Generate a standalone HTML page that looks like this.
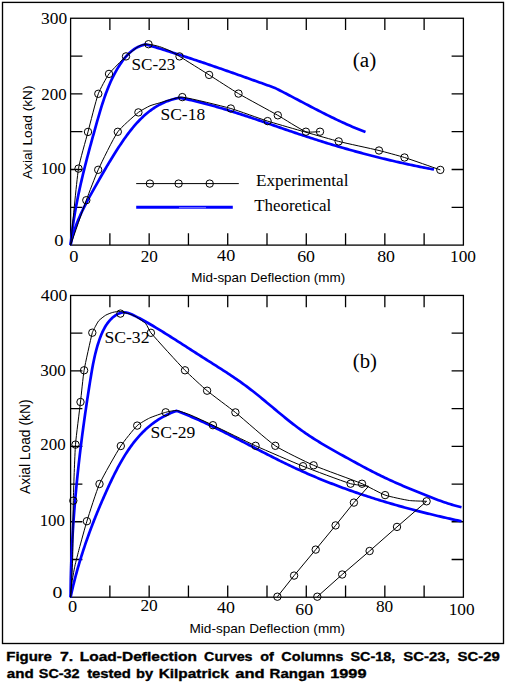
<!DOCTYPE html><html><head><meta charset="utf-8"><style>html,body{margin:0;padding:0;background:#fff;width:506px;height:684px;overflow:hidden}svg{display:block}</style></head><body>
<svg width="506" height="684" viewBox="0 0 506 684">
<rect x="0" y="0" width="506" height="684" fill="#fff"/>
<rect x="2.5" y="2.4" width="501" height="641.1" fill="none" stroke="#000" stroke-width="1.35"/>
<rect x="70.60" y="18.25" width="392.80" height="226.85" fill="none" stroke="#000" stroke-width="1.3"/>
<path d="M109.88,18.25V30.05M109.88,245.10V233.30M149.16,18.25V30.05M149.16,245.10V233.30M188.44,18.25V30.05M188.44,245.10V233.30M227.72,18.25V30.05M227.72,245.10V233.30M267.00,18.25V30.05M267.00,245.10V233.30M306.28,18.25V30.05M306.28,245.10V233.30M345.56,18.25V30.05M345.56,245.10V233.30M384.84,18.25V30.05M384.84,245.10V233.30M424.12,18.25V30.05M424.12,245.10V233.30M70.60,207.29H82.40M463.40,207.29H451.60M70.60,169.48H82.40M463.40,169.48H451.60M70.60,131.68H82.40M463.40,131.68H451.60M70.60,93.87H82.40M463.40,93.87H451.60M70.60,56.06H82.40M463.40,56.06H451.60" fill="none" stroke="#000" stroke-width="1.3"/>
<rect x="70.60" y="295.45" width="392.80" height="301.75" fill="none" stroke="#000" stroke-width="1.3"/>
<path d="M109.88,295.45V307.25M109.88,597.20V585.40M149.16,295.45V307.25M149.16,597.20V585.40M188.44,295.45V307.25M188.44,597.20V585.40M227.72,295.45V307.25M227.72,597.20V585.40M267.00,295.45V307.25M267.00,597.20V585.40M306.28,295.45V307.25M306.28,597.20V585.40M345.56,295.45V307.25M345.56,597.20V585.40M384.84,295.45V307.25M384.84,597.20V585.40M424.12,295.45V307.25M424.12,597.20V585.40M70.60,559.48H82.40M463.40,559.48H451.60M70.60,521.76H82.40M463.40,521.76H451.60M70.60,484.04H82.40M463.40,484.04H451.60M70.60,446.33H82.40M463.40,446.33H451.60M70.60,408.61H82.40M463.40,408.61H451.60M70.60,370.89H82.40M463.40,370.89H451.60M70.60,333.17H82.40M463.40,333.17H451.60" fill="none" stroke="#000" stroke-width="1.3"/>
<path d="M70.60,245.10 L70.80,243.05 L71.01,241.00 L71.23,238.96 L71.46,236.92 L71.70,234.89 L71.95,232.86 L72.21,230.84 L72.48,228.82 L72.75,226.80 L73.04,224.79 L73.34,222.79 L73.64,220.78 L73.95,218.78 L74.27,216.79 L74.60,214.80 L74.94,212.81 L75.29,210.82 L75.64,208.84 L76.00,206.86 L76.37,204.88 L76.75,202.91 L77.13,200.94 L77.52,198.97 L77.92,197.00 L78.32,195.04 L78.73,193.08 L79.15,191.12 L79.57,189.16 L80.00,187.20 L80.44,185.25 L80.88,183.29 L81.33,181.34 L81.78,179.39 L82.24,177.44 L82.71,175.49 L83.18,173.54 L83.65,171.59 L84.14,169.64 L84.62,167.70 L85.11,165.75 L85.60,163.80 L86.10,161.85 L86.61,159.91 L87.11,157.96 L87.62,156.01 L88.14,154.06 L88.66,152.11 L89.18,150.16 L89.71,148.21 L90.23,146.26 L90.77,144.31 L91.30,142.35 L91.84,140.40 L92.38,138.44 L92.92,136.48 L93.47,134.52 L94.02,132.56 L94.57,130.59 L95.12,128.62 L95.67,126.65 L96.23,124.68 L96.78,122.71 L97.34,120.73 L97.90,118.75 L98.47,116.78 L99.05,114.80 L99.62,112.82 L100.21,110.85 L100.81,108.88 L101.41,106.92 L102.02,104.95 L102.65,103.00 L103.29,101.05 L103.94,99.10 L104.60,97.17 L105.28,95.24 L105.97,93.33 L106.69,91.42 L107.41,89.52 L108.16,87.64 L108.93,85.76 L109.72,83.91 L110.52,82.06 L111.36,80.23 L112.21,78.42 L113.09,76.62 L113.99,74.84 L114.92,73.08 L115.88,71.33 L116.86,69.61 L117.87,67.90 L118.92,66.22 L119.99,64.56 L121.10,62.92 L122.24,61.31 L123.41,59.73 L124.63,58.18 L125.88,56.68 L127.19,55.23 L128.55,53.84 L129.96,52.50 L131.43,51.24 L132.96,50.05 L134.56,48.95 L136.22,47.93 L137.96,47.01 L139.77,46.19 L141.66,45.48 L143.64,44.88 L145.70,44.40 L145.70,44.40 L147.65,44.97 L149.60,45.55 L151.55,46.13 L153.50,46.72 L155.45,47.30 L157.40,47.89 L159.35,48.49 L161.29,49.08 L163.24,49.68 L165.18,50.29 L167.12,50.89 L169.06,51.50 L171.00,52.11 L172.94,52.73 L174.88,53.35 L176.82,53.97 L178.75,54.59 L180.69,55.21 L182.63,55.84 L184.56,56.47 L186.49,57.11 L188.43,57.74 L190.36,58.38 L192.29,59.02 L194.22,59.66 L196.15,60.30 L198.08,60.95 L200.01,61.60 L201.93,62.25 L203.86,62.90 L205.79,63.56 L207.71,64.21 L209.64,64.87 L211.56,65.53 L213.49,66.19 L215.41,66.85 L217.33,67.52 L219.26,68.18 L221.18,68.85 L223.10,69.52 L225.02,70.19 L226.94,70.86 L228.86,71.53 L230.78,72.21 L232.70,72.88 L234.62,73.56 L236.54,74.23 L238.46,74.91 L240.38,75.59 L242.30,76.27 L244.22,76.95 L246.14,77.63 L248.05,78.31 L249.97,79.00 L251.89,79.68 L253.81,80.36 L255.73,81.05 L257.64,81.73 L259.56,82.42 L261.48,83.10 L263.40,83.79 L265.31,84.47 L267.23,85.16 L269.15,85.84 L271.06,86.53 L272.98,87.21 L274.90,87.90 L274.90,87.90 L276.74,88.83 L278.57,89.77 L280.40,90.71 L282.23,91.65 L284.06,92.60 L285.89,93.55 L287.71,94.50 L289.54,95.46 L291.36,96.41 L293.18,97.37 L295.00,98.33 L296.83,99.29 L298.65,100.25 L300.47,101.20 L302.29,102.16 L304.11,103.12 L305.93,104.08 L307.76,105.04 L309.58,105.99 L311.41,106.94 L313.23,107.89 L315.06,108.84 L316.89,109.78 L318.72,110.72 L320.55,111.66 L322.38,112.59 L324.22,113.52 L326.06,114.44 L327.90,115.36 L329.74,116.28 L331.59,117.18 L333.44,118.08 L335.29,118.98 L337.15,119.86 L339.01,120.74 L340.87,121.61 L342.74,122.48 L344.61,123.33 L346.48,124.18 L348.36,125.02 L350.25,125.85 L352.13,126.67 L354.03,127.48 L355.93,128.27 L357.83,129.06 L359.74,129.84 L361.65,130.60 L363.57,131.36 L365.50,132.10" fill="none" stroke="#0000ff" stroke-width="2.7" stroke-linejoin="round"/>
<path d="M70.60,245.10 L71.00,243.06 L71.43,241.05 L71.91,239.05 L72.41,237.06 L72.95,235.10 L73.51,233.14 L74.11,231.21 L74.74,229.29 L75.40,227.38 L76.08,225.48 L76.79,223.60 L77.52,221.73 L78.28,219.87 L79.06,218.02 L79.86,216.18 L80.68,214.35 L81.52,212.53 L82.38,210.71 L83.26,208.91 L84.15,207.11 L85.05,205.31 L85.97,203.53 L86.90,201.75 L87.85,199.97 L88.80,198.19 L89.76,196.42 L90.74,194.66 L91.71,192.89 L92.70,191.13 L93.68,189.36 L94.68,187.60 L95.67,185.84 L96.67,184.07 L97.66,182.31 L98.66,180.54 L99.67,178.77 L100.67,177.01 L101.68,175.24 L102.70,173.48 L103.72,171.72 L104.74,169.96 L105.77,168.20 L106.80,166.44 L107.84,164.69 L108.88,162.93 L109.94,161.18 L110.99,159.44 L112.06,157.69 L113.13,155.96 L114.21,154.22 L115.30,152.49 L116.40,150.76 L117.51,149.04 L118.62,147.33 L119.75,145.62 L120.88,143.91 L122.03,142.21 L123.19,140.52 L124.36,138.84 L125.54,137.18 L126.74,135.52 L127.95,133.88 L129.18,132.26 L130.43,130.65 L131.69,129.06 L132.97,127.50 L134.27,125.95 L135.59,124.43 L136.93,122.93 L138.29,121.46 L139.68,120.01 L141.09,118.60 L142.52,117.21 L143.98,115.86 L145.46,114.54 L146.97,113.26 L148.50,112.01 L150.07,110.80 L151.66,109.63 L153.28,108.50 L154.94,107.41 L156.62,106.37 L158.34,105.37 L160.09,104.42 L161.88,103.52 L163.70,102.67 L165.55,101.86 L167.44,101.11 L169.37,100.42 L171.34,99.78 L173.34,99.19 L175.39,98.67 L177.47,98.20 L179.60,97.80 L179.60,97.80 L181.57,98.19 L183.54,98.59 L185.51,99.00 L187.47,99.42 L189.43,99.86 L191.39,100.30 L193.35,100.75 L195.30,101.21 L197.25,101.69 L199.21,102.17 L201.16,102.66 L203.10,103.16 L205.05,103.66 L206.99,104.18 L208.93,104.70 L210.87,105.23 L212.81,105.77 L214.75,106.32 L216.68,106.87 L218.62,107.43 L220.55,108.00 L222.48,108.57 L224.41,109.15 L226.34,109.73 L228.27,110.32 L230.20,110.92 L232.12,111.52 L234.05,112.13 L235.97,112.74 L237.89,113.36 L239.81,113.98 L241.73,114.60 L243.65,115.23 L245.57,115.86 L247.49,116.50 L249.41,117.14 L251.32,117.78 L253.24,118.42 L255.16,119.07 L257.07,119.72 L258.99,120.37 L260.90,121.03 L262.82,121.68 L264.73,122.34 L266.64,123.00 L268.56,123.66 L270.47,124.32 L272.39,124.98 L274.30,125.64 L276.21,126.30 L278.13,126.96 L280.04,127.62 L281.96,128.28 L283.87,128.94 L285.78,129.60 L287.70,130.26 L289.62,130.91 L291.53,131.57 L293.45,132.22 L295.37,132.87 L297.28,133.52 L299.20,134.16 L301.12,134.80 L303.04,135.44 L304.96,136.08 L306.88,136.71 L308.81,137.34 L310.73,137.97 L312.65,138.59 L314.58,139.21 L316.51,139.82 L318.43,140.43 L320.36,141.04 L322.29,141.64 L324.22,142.24 L326.15,142.84 L328.08,143.43 L330.02,144.02 L331.95,144.60 L333.88,145.18 L335.82,145.76 L337.76,146.33 L339.69,146.90 L341.63,147.47 L343.57,148.03 L345.51,148.59 L347.46,149.15 L349.40,149.70 L351.34,150.24 L353.29,150.79 L355.23,151.33 L357.18,151.86 L359.13,152.39 L361.08,152.92 L363.03,153.44 L364.98,153.96 L366.93,154.48 L368.88,154.99 L370.84,155.49 L372.79,156.00 L374.75,156.50 L376.71,156.99 L378.67,157.48 L380.63,157.97 L382.59,158.45 L384.55,158.93 L386.51,159.40 L388.48,159.87 L390.45,160.34 L392.41,160.80 L394.38,161.26 L396.35,161.71 L398.32,162.16 L400.29,162.61 L402.26,163.05 L404.24,163.48 L406.21,163.91 L408.19,164.34 L410.17,164.76 L412.15,165.18 L414.13,165.60 L416.11,166.01 L418.09,166.41 L420.08,166.81 L422.06,167.21 L424.05,167.60 L426.04,167.99 L428.03,168.38 L430.02,168.75 L432.01,169.13 L434.00,169.50" fill="none" stroke="#0000ff" stroke-width="2.7" stroke-linejoin="round"/>
<path d="M70.60,245.10 C72.05,231.07 76.36,182.50 78.50,168.60 C79.55,161.75 86.22,138.62 88.00,131.90 C89.85,124.91 95.85,100.56 98.30,93.80 C99.70,89.93 106.56,77.20 109.00,73.90 C111.64,70.34 122.71,59.42 126.00,56.40 C128.36,54.23 137.06,47.09 139.80,45.60 C141.18,44.85 146.91,44.12 148.50,44.20 C150.53,44.30 157.53,46.00 159.50,46.60 C161.48,47.21 168.14,49.89 170.00,50.80 C171.81,51.69 177.78,55.34 179.50,56.40 C184.95,59.76 203.69,71.49 209.10,74.90 C214.50,78.31 233.00,90.36 238.50,93.60 C245.59,97.77 270.64,111.25 277.80,115.30 C282.99,118.24 300.50,129.60 305.90,131.70 C308.24,132.61 317.42,131.70 320.00,131.70" fill="none" stroke="#000" stroke-width="1" stroke-linejoin="round"/>
<path d="M70.60,245.10 C73.48,236.87 83.30,208.39 86.30,200.20 C88.36,194.58 95.70,175.23 98.20,169.80 C101.47,162.69 113.37,138.13 117.80,131.80 C120.74,127.61 134.39,115.64 138.40,112.40 C140.29,110.87 147.78,106.79 150.00,105.80 C151.72,105.03 158.09,103.35 159.90,102.80 C161.72,102.25 167.96,100.27 169.80,99.80 C172.07,99.22 180.02,96.77 182.30,97.10 C191.20,98.37 222.02,106.03 230.80,108.50 C237.66,110.43 260.78,119.02 267.60,121.10 C280.56,125.05 325.60,137.94 338.70,141.40 C346.02,143.33 371.64,148.70 379.00,150.50 C383.71,151.65 399.88,156.04 404.50,157.50 C411.12,159.59 433.74,167.63 440.30,169.90" fill="none" stroke="#000" stroke-width="1" stroke-linejoin="round"/>
<circle cx="78.50" cy="168.60" r="3.70" fill="none" stroke="#000" stroke-width="1"/>
<circle cx="88.00" cy="131.90" r="3.70" fill="none" stroke="#000" stroke-width="1"/>
<circle cx="98.30" cy="93.80" r="3.70" fill="none" stroke="#000" stroke-width="1"/>
<circle cx="109.00" cy="73.90" r="3.70" fill="none" stroke="#000" stroke-width="1"/>
<circle cx="126.00" cy="56.40" r="3.70" fill="none" stroke="#000" stroke-width="1"/>
<circle cx="148.50" cy="44.20" r="3.70" fill="none" stroke="#000" stroke-width="1"/>
<circle cx="179.50" cy="56.40" r="3.70" fill="none" stroke="#000" stroke-width="1"/>
<circle cx="209.10" cy="74.90" r="3.70" fill="none" stroke="#000" stroke-width="1"/>
<circle cx="238.50" cy="93.60" r="3.70" fill="none" stroke="#000" stroke-width="1"/>
<circle cx="277.80" cy="115.30" r="3.70" fill="none" stroke="#000" stroke-width="1"/>
<circle cx="305.90" cy="131.70" r="3.70" fill="none" stroke="#000" stroke-width="1"/>
<circle cx="320.00" cy="131.70" r="3.70" fill="none" stroke="#000" stroke-width="1"/>
<circle cx="86.30" cy="200.20" r="3.70" fill="none" stroke="#000" stroke-width="1"/>
<circle cx="98.20" cy="169.80" r="3.70" fill="none" stroke="#000" stroke-width="1"/>
<circle cx="117.80" cy="131.80" r="3.70" fill="none" stroke="#000" stroke-width="1"/>
<circle cx="138.40" cy="112.40" r="3.70" fill="none" stroke="#000" stroke-width="1"/>
<circle cx="182.30" cy="97.10" r="3.70" fill="none" stroke="#000" stroke-width="1"/>
<circle cx="230.80" cy="108.50" r="3.70" fill="none" stroke="#000" stroke-width="1"/>
<circle cx="267.60" cy="121.10" r="3.70" fill="none" stroke="#000" stroke-width="1"/>
<circle cx="338.70" cy="141.40" r="3.70" fill="none" stroke="#000" stroke-width="1"/>
<circle cx="379.00" cy="150.50" r="3.70" fill="none" stroke="#000" stroke-width="1"/>
<circle cx="404.50" cy="157.50" r="3.70" fill="none" stroke="#000" stroke-width="1"/>
<circle cx="440.30" cy="169.90" r="3.70" fill="none" stroke="#000" stroke-width="1"/>
<path d="M136.2,183.6H238.8" stroke="#000" stroke-width="1"/>
<circle cx="149.90" cy="183.60" r="3.70" fill="none" stroke="#000" stroke-width="1"/>
<circle cx="178.60" cy="183.60" r="3.70" fill="none" stroke="#000" stroke-width="1"/>
<circle cx="209.70" cy="183.60" r="3.70" fill="none" stroke="#000" stroke-width="1"/>
<path d="M136.2,207.3H232.8" stroke="#0000ff" stroke-width="2.9"/>
<path d="M179,207.7H206" stroke="#9a9aff" stroke-width="0.8"/>
<path d="M70.60,597.20 L70.61,595.19 L70.62,593.19 L70.64,591.18 L70.66,589.18 L70.69,587.17 L70.72,585.16 L70.75,583.16 L70.78,581.15 L70.82,579.14 L70.87,577.14 L70.92,575.13 L70.97,573.12 L71.02,571.11 L71.08,569.11 L71.14,567.10 L71.21,565.09 L71.28,563.09 L71.35,561.08 L71.42,559.07 L71.50,557.06 L71.59,555.06 L71.67,553.05 L71.76,551.04 L71.86,549.04 L71.95,547.03 L72.05,545.02 L72.16,543.01 L72.27,541.01 L72.38,539.00 L72.49,536.99 L72.61,534.99 L72.73,532.98 L72.85,530.97 L72.98,528.97 L73.11,526.96 L73.24,524.96 L73.38,522.95 L73.52,520.94 L73.66,518.94 L73.81,516.93 L73.96,514.93 L74.11,512.92 L74.26,510.92 L74.42,508.91 L74.58,506.91 L74.75,504.90 L74.92,502.90 L75.09,500.90 L75.26,498.89 L75.44,496.89 L75.62,494.89 L75.80,492.88 L75.98,490.88 L76.17,488.88 L76.36,486.88 L76.56,484.87 L76.75,482.87 L76.95,480.87 L77.15,478.87 L77.36,476.87 L77.57,474.87 L77.78,472.87 L77.99,470.87 L78.21,468.87 L78.43,466.87 L78.65,464.87 L78.87,462.87 L79.10,460.88 L79.33,458.88 L79.56,456.88 L79.79,454.88 L80.03,452.89 L80.27,450.89 L80.51,448.90 L80.76,446.90 L81.00,444.91 L81.25,442.91 L81.50,440.92 L81.76,438.93 L82.01,436.93 L82.27,434.94 L82.53,432.95 L82.80,430.96 L83.06,428.97 L83.33,426.98 L83.60,424.99 L83.88,423.00 L84.15,421.01 L84.43,419.02 L84.71,417.03 L84.99,415.05 L85.27,413.06 L85.56,411.07 L85.85,409.09 L86.14,407.10 L86.43,405.12 L86.73,403.14 L87.02,401.15 L87.32,399.17 L87.62,397.19 L87.93,395.21 L88.23,393.23 L88.54,391.25 L88.85,389.27 L89.16,387.29 L89.47,385.31 L89.78,383.34 L90.10,381.36 L90.42,379.38 L90.74,377.41 L91.06,375.43 L91.39,373.46 L91.73,371.49 L92.07,369.52 L92.43,367.55 L92.79,365.58 L93.17,363.61 L93.56,361.64 L93.97,359.68 L94.40,357.71 L94.84,355.75 L95.31,353.79 L95.80,351.83 L96.31,349.87 L96.85,347.91 L97.41,345.96 L98.00,344.01 L98.62,342.06 L99.27,340.11 L99.96,338.16 L100.69,336.23 L101.46,334.33 L102.27,332.44 L103.14,330.59 L104.06,328.79 L105.04,327.02 L106.08,325.32 L107.19,323.67 L108.37,322.09 L109.62,320.58 L110.96,319.16 L112.37,317.82 L113.88,316.58 L115.47,315.43 L117.16,314.41 L118.91,313.56 L120.72,312.91 L122.58,312.51 L124.47,312.39 L126.37,312.59 L128.28,313.06 L130.19,313.73 L132.09,314.55 L133.99,315.46 L135.86,316.40 L137.71,317.35 L139.54,318.31 L141.35,319.28 L143.14,320.25 L144.92,321.24 L146.68,322.23 L148.43,323.23 L150.17,324.24 L151.90,325.25 L153.62,326.27 L155.33,327.30 L157.04,328.33 L158.74,329.37 L160.44,330.41 L162.13,331.46 L163.83,332.51 L165.52,333.57 L167.21,334.63 L168.91,335.69 L170.60,336.76 L172.29,337.83 L173.98,338.90 L175.67,339.98 L177.36,341.06 L179.05,342.14 L180.74,343.22 L182.43,344.30 L184.12,345.39 L185.81,346.48 L187.50,347.56 L189.19,348.65 L190.89,349.74 L192.58,350.83 L194.27,351.91 L195.96,353.00 L197.66,354.08 L199.35,355.17 L201.05,356.25 L202.75,357.33 L204.45,358.41 L206.15,359.49 L207.85,360.56 L209.55,361.64 L211.25,362.71 L212.95,363.79 L214.65,364.86 L216.35,365.94 L218.04,367.02 L219.74,368.10 L221.43,369.18 L223.12,370.27 L224.81,371.36 L226.49,372.46 L228.17,373.56 L229.84,374.66 L231.52,375.78 L233.18,376.90 L234.84,378.02 L236.50,379.16 L238.14,380.30 L239.79,381.45 L241.42,382.62 L243.05,383.79 L244.67,384.97 L246.28,386.16 L247.88,387.37 L249.48,388.58 L251.07,389.81 L252.65,391.04 L254.23,392.28 L255.80,393.53 L257.37,394.79 L258.93,396.05 L260.49,397.32 L262.04,398.59 L263.60,399.87 L265.15,401.15 L266.69,402.44 L268.24,403.72 L269.78,405.01 L271.33,406.30 L272.87,407.59 L274.41,408.88 L275.96,410.16 L277.50,411.45 L279.05,412.73 L280.60,414.01 L282.15,415.29 L283.71,416.56 L285.27,417.83 L286.83,419.09 L288.40,420.35 L289.97,421.60 L291.55,422.84 L293.13,424.07 L294.72,425.30 L296.32,426.51 L297.92,427.72 L299.53,428.91 L301.15,430.09 L302.78,431.26 L304.42,432.42 L306.07,433.56 L307.73,434.69 L309.40,435.81 L311.07,436.91 L312.76,438.00 L314.45,439.08 L316.15,440.15 L317.86,441.21 L319.57,442.26 L321.29,443.31 L323.02,444.34 L324.75,445.36 L326.48,446.38 L328.22,447.39 L329.97,448.39 L331.72,449.39 L333.47,450.38 L335.22,451.37 L336.98,452.35 L338.74,453.33 L340.50,454.31 L342.26,455.28 L344.02,456.25 L345.78,457.22 L347.54,458.19 L349.30,459.16 L351.06,460.13 L352.82,461.09 L354.58,462.05 L356.35,463.01 L358.11,463.97 L359.87,464.92 L361.64,465.87 L363.40,466.82 L365.17,467.76 L366.94,468.69 L368.72,469.63 L370.49,470.55 L372.27,471.47 L374.05,472.38 L375.84,473.28 L377.62,474.18 L379.42,475.07 L381.21,475.95 L383.01,476.83 L384.82,477.69 L386.63,478.55 L388.44,479.39 L390.26,480.23 L392.08,481.06 L393.90,481.88 L395.73,482.70 L397.57,483.50 L399.40,484.31 L401.24,485.10 L403.09,485.89 L404.93,486.67 L406.78,487.45 L408.63,488.23 L410.48,489.00 L412.34,489.76 L414.20,490.53 L416.06,491.29 L417.92,492.04 L419.78,492.80 L421.64,493.55 L423.51,494.30 L425.37,495.05 L427.24,495.79 L429.10,496.54 L430.97,497.28 L432.85,498.01 L434.72,498.74 L436.60,499.46 L438.48,500.16 L440.36,500.85 L442.25,501.53 L444.15,502.20 L446.05,502.84 L447.95,503.47 L449.87,504.08 L451.78,504.66 L453.71,505.22 L455.65,505.76 L457.59,506.27 L459.54,506.75 L461.50,507.20" fill="none" stroke="#0000ff" stroke-width="2.7" stroke-linejoin="round"/>
<path d="M70.60,597.20 L71.03,595.21 L71.47,593.22 L71.91,591.24 L72.37,589.26 L72.83,587.28 L73.30,585.31 L73.79,583.34 L74.28,581.38 L74.77,579.42 L75.28,577.46 L75.80,575.51 L76.32,573.56 L76.85,571.61 L77.39,569.67 L77.94,567.73 L78.50,565.79 L79.06,563.86 L79.64,561.93 L80.22,560.00 L80.81,558.08 L81.40,556.16 L82.01,554.24 L82.62,552.32 L83.24,550.41 L83.87,548.49 L84.51,546.59 L85.15,544.68 L85.80,542.77 L86.46,540.87 L87.13,538.97 L87.80,537.08 L88.48,535.18 L89.17,533.29 L89.86,531.39 L90.57,529.50 L91.28,527.62 L91.99,525.73 L92.72,523.84 L93.45,521.96 L94.18,520.08 L94.93,518.20 L95.68,516.32 L96.44,514.44 L97.20,512.57 L97.98,510.69 L98.76,508.82 L99.54,506.94 L100.33,505.07 L101.13,503.20 L101.93,501.33 L102.75,499.46 L103.56,497.59 L104.39,495.72 L105.22,493.85 L106.05,491.98 L106.89,490.12 L107.74,488.25 L108.60,486.38 L109.46,484.52 L110.33,482.66 L111.21,480.80 L112.10,478.95 L112.99,477.10 L113.90,475.26 L114.82,473.42 L115.75,471.59 L116.69,469.77 L117.64,467.96 L118.61,466.16 L119.59,464.37 L120.58,462.59 L121.59,460.82 L122.61,459.07 L123.65,457.33 L124.71,455.61 L125.78,453.90 L126.88,452.20 L127.99,450.53 L129.11,448.87 L130.26,447.23 L131.43,445.61 L132.62,444.02 L133.83,442.44 L135.06,440.89 L136.32,439.35 L137.60,437.85 L138.90,436.36 L140.22,434.91 L141.57,433.47 L142.95,432.07 L144.35,430.69 L145.78,429.34 L147.24,428.02 L148.72,426.74 L150.23,425.48 L151.77,424.25 L153.34,423.06 L154.94,421.90 L156.57,420.78 L158.23,419.69 L159.93,418.63 L161.65,417.61 L163.41,416.63 L165.20,415.69 L167.03,414.79 L168.89,413.93 L170.79,413.11 L172.72,412.33 L174.69,411.59 L176.70,410.90 L176.70,410.89 L178.57,411.61 L180.44,412.34 L182.30,413.08 L184.16,413.83 L186.01,414.59 L187.86,415.35 L189.71,416.13 L191.55,416.92 L193.40,417.71 L195.23,418.51 L197.07,419.32 L198.90,420.14 L200.73,420.97 L202.56,421.80 L204.38,422.65 L206.21,423.49 L208.03,424.35 L209.84,425.21 L211.66,426.08 L213.47,426.95 L215.28,427.83 L217.09,428.71 L218.90,429.60 L220.71,430.49 L222.51,431.39 L224.32,432.29 L226.12,433.20 L227.92,434.11 L229.72,435.02 L231.52,435.94 L233.32,436.85 L235.11,437.78 L236.91,438.70 L238.71,439.62 L240.50,440.55 L242.30,441.48 L244.09,442.41 L245.89,443.34 L247.68,444.27 L249.47,445.20 L251.27,446.14 L253.06,447.07 L254.86,448.00 L256.65,448.93 L258.45,449.86 L260.25,450.79 L262.04,451.72 L263.84,452.64 L265.64,453.57 L267.44,454.49 L269.24,455.41 L271.04,456.32 L272.85,457.24 L274.65,458.15 L276.46,459.05 L278.27,459.95 L280.08,460.85 L281.89,461.75 L283.70,462.63 L285.52,463.52 L287.34,464.40 L289.16,465.27 L290.98,466.14 L292.81,467.00 L294.63,467.86 L296.46,468.70 L298.30,469.55 L300.13,470.38 L301.97,471.21 L303.81,472.03 L305.65,472.85 L307.50,473.66 L309.35,474.46 L311.20,475.26 L313.05,476.05 L314.91,476.84 L316.77,477.62 L318.63,478.39 L320.49,479.16 L322.36,479.92 L324.22,480.67 L326.09,481.42 L327.97,482.16 L329.84,482.90 L331.72,483.63 L333.60,484.36 L335.48,485.08 L337.36,485.79 L339.25,486.50 L341.14,487.20 L343.03,487.90 L344.92,488.59 L346.81,489.27 L348.71,489.95 L350.61,490.63 L352.51,491.30 L354.41,491.96 L356.32,492.62 L358.22,493.27 L360.13,493.92 L362.04,494.56 L363.95,495.20 L365.87,495.83 L367.78,496.46 L369.70,497.08 L371.62,497.70 L373.54,498.31 L375.46,498.92 L377.39,499.52 L379.32,500.12 L381.24,500.71 L383.17,501.30 L385.11,501.88 L387.04,502.46 L388.97,503.03 L390.91,503.60 L392.85,504.16 L394.79,504.72 L396.73,505.28 L398.67,505.83 L400.62,506.37 L402.56,506.92 L404.51,507.45 L406.46,507.99 L408.41,508.51 L410.36,509.04 L412.31,509.56 L414.26,510.07 L416.22,510.59 L418.18,511.09 L420.13,511.60 L422.09,512.10 L424.05,512.59 L426.01,513.08 L427.98,513.57 L429.94,514.05 L431.90,514.53 L433.87,515.01 L435.84,515.48 L437.81,515.95 L439.78,516.42 L441.75,516.88 L443.72,517.33 L445.69,517.79 L447.66,518.24 L449.64,518.69 L451.61,519.13 L453.59,519.57 L455.57,520.01 L457.54,520.44 L459.52,520.87 L461.50,521.30" fill="none" stroke="#0000ff" stroke-width="2.7" stroke-linejoin="round"/>
<path d="M70.60,597.20 C70.97,590.38 72.41,566.83 72.60,560.00 C72.90,549.13 73.03,511.57 73.30,500.70 C73.56,490.41 74.75,454.86 75.50,444.60 C76.07,436.76 79.60,409.81 80.50,402.00 C81.17,396.19 83.12,376.06 84.10,370.30 C85.28,363.35 90.60,339.53 92.30,332.70 C92.54,331.72 94.22,328.59 94.70,327.70 C95.41,326.39 97.83,321.80 98.80,320.70 C99.85,319.51 104.33,316.02 105.70,315.20 C106.87,314.50 111.37,312.75 112.70,312.40 C114.05,312.05 118.94,311.19 120.30,311.40 C122.81,311.78 131.49,314.49 133.80,315.60 C136.12,316.71 143.81,321.70 145.60,323.50 C146.95,324.86 149.64,331.30 150.90,332.80 C156.86,339.88 178.53,363.64 185.00,370.30 C188.84,374.25 202.87,387.17 207.10,390.70 C212.11,394.89 230.32,408.29 235.40,412.40 C242.82,418.39 267.45,440.49 275.30,445.80 C281.79,450.19 306.39,462.15 313.60,465.30 C322.29,469.10 353.25,480.05 362.00,483.70 C366.35,485.52 380.68,493.53 385.10,495.10 C389.35,496.61 404.82,499.83 409.30,500.50 C412.43,500.97 423.43,501.15 426.60,501.30" fill="none" stroke="#000" stroke-width="1" stroke-linejoin="round"/>
<path d="M426.60,501.30 L397.00,526.90 L369.60,551.00 L342.20,574.50 L317.30,596.70" fill="none" stroke="#000" stroke-width="1" stroke-linejoin="round"/>
<path d="M70.60,597.20 C70.80,594.76 71.37,586.32 71.70,583.90 C72.14,580.66 74.12,569.50 74.80,566.30 C75.49,563.07 78.34,551.99 79.20,548.80 C80.56,543.73 85.33,526.21 86.90,521.20 C89.05,514.33 96.55,490.54 99.50,484.00 C102.77,476.75 116.48,452.69 120.80,446.00 C123.39,441.98 133.81,428.90 137.20,425.60 C139.09,423.77 147.20,419.12 149.60,418.00 C152.42,416.68 162.69,413.14 165.70,412.30 C167.63,411.76 174.56,410.30 176.50,410.50 C179.01,410.76 187.60,413.83 190.00,414.80 C194.27,416.52 208.73,423.23 212.90,425.20 C220.76,428.91 247.69,442.20 255.60,445.80 C264.21,449.72 294.22,462.70 303.00,466.20 C311.63,469.64 341.75,480.98 350.60,483.70 C353.76,484.67 365.22,485.82 368.50,486.30" fill="none" stroke="#000" stroke-width="1" stroke-linejoin="round"/>
<path d="M368.50,486.30 L353.90,502.60 L335.60,525.40 L315.70,549.60 L294.10,575.60 L277.40,596.70" fill="none" stroke="#000" stroke-width="1" stroke-linejoin="round"/>
<circle cx="73.30" cy="500.70" r="3.70" fill="none" stroke="#000" stroke-width="1"/>
<circle cx="75.50" cy="444.60" r="3.70" fill="none" stroke="#000" stroke-width="1"/>
<circle cx="80.50" cy="402.00" r="3.70" fill="none" stroke="#000" stroke-width="1"/>
<circle cx="84.10" cy="370.30" r="3.70" fill="none" stroke="#000" stroke-width="1"/>
<circle cx="92.30" cy="332.70" r="3.70" fill="none" stroke="#000" stroke-width="1"/>
<circle cx="120.40" cy="313.60" r="3.70" fill="none" stroke="#000" stroke-width="1"/>
<circle cx="150.90" cy="332.80" r="3.70" fill="none" stroke="#000" stroke-width="1"/>
<circle cx="185.00" cy="370.30" r="3.70" fill="none" stroke="#000" stroke-width="1"/>
<circle cx="207.10" cy="390.70" r="3.70" fill="none" stroke="#000" stroke-width="1"/>
<circle cx="235.40" cy="412.40" r="3.70" fill="none" stroke="#000" stroke-width="1"/>
<circle cx="275.30" cy="445.80" r="3.70" fill="none" stroke="#000" stroke-width="1"/>
<circle cx="313.60" cy="465.30" r="3.70" fill="none" stroke="#000" stroke-width="1"/>
<circle cx="362.00" cy="483.70" r="3.70" fill="none" stroke="#000" stroke-width="1"/>
<circle cx="385.10" cy="495.10" r="3.70" fill="none" stroke="#000" stroke-width="1"/>
<circle cx="426.60" cy="501.30" r="3.70" fill="none" stroke="#000" stroke-width="1"/>
<circle cx="397.00" cy="526.90" r="3.70" fill="none" stroke="#000" stroke-width="1"/>
<circle cx="369.60" cy="551.00" r="3.70" fill="none" stroke="#000" stroke-width="1"/>
<circle cx="342.20" cy="574.50" r="3.70" fill="none" stroke="#000" stroke-width="1"/>
<circle cx="317.30" cy="596.70" r="3.70" fill="none" stroke="#000" stroke-width="1"/>
<circle cx="86.90" cy="521.20" r="3.70" fill="none" stroke="#000" stroke-width="1"/>
<circle cx="99.50" cy="484.00" r="3.70" fill="none" stroke="#000" stroke-width="1"/>
<circle cx="120.80" cy="446.00" r="3.70" fill="none" stroke="#000" stroke-width="1"/>
<circle cx="137.20" cy="425.60" r="3.70" fill="none" stroke="#000" stroke-width="1"/>
<circle cx="165.70" cy="412.30" r="3.70" fill="none" stroke="#000" stroke-width="1"/>
<circle cx="212.90" cy="425.20" r="3.70" fill="none" stroke="#000" stroke-width="1"/>
<circle cx="255.60" cy="445.80" r="3.70" fill="none" stroke="#000" stroke-width="1"/>
<circle cx="303.00" cy="466.20" r="3.70" fill="none" stroke="#000" stroke-width="1"/>
<circle cx="350.60" cy="483.70" r="3.70" fill="none" stroke="#000" stroke-width="1"/>
<circle cx="353.90" cy="502.60" r="3.70" fill="none" stroke="#000" stroke-width="1"/>
<circle cx="335.60" cy="525.40" r="3.70" fill="none" stroke="#000" stroke-width="1"/>
<circle cx="315.70" cy="549.60" r="3.70" fill="none" stroke="#000" stroke-width="1"/>
<circle cx="294.10" cy="575.60" r="3.70" fill="none" stroke="#000" stroke-width="1"/>
<circle cx="277.40" cy="596.70" r="3.70" fill="none" stroke="#000" stroke-width="1"/>
<text x="41.03" y="24.15" font-family="'Liberation Serif', serif" font-size="17.30" font-weight="normal" textLength="26.06" lengthAdjust="spacingAndGlyphs">300</text>
<text x="41.32" y="100.35" font-family="'Liberation Serif', serif" font-size="17.30" font-weight="normal" textLength="25.35" lengthAdjust="spacingAndGlyphs">200</text>
<text x="40.70" y="174.35" font-family="'Liberation Serif', serif" font-size="17.30" font-weight="normal" textLength="25.07" lengthAdjust="spacingAndGlyphs">100</text>
<text x="54.36" y="246.35" font-family="'Liberation Serif', serif" font-size="17.30" font-weight="normal" textLength="9.29" lengthAdjust="spacingAndGlyphs">0</text>
<text x="69.27" y="262.35" font-family="'Liberation Serif', serif" font-size="17.30" font-weight="normal" textLength="9.17" lengthAdjust="spacingAndGlyphs">0</text>
<text x="140.71" y="261.85" font-family="'Liberation Serif', serif" font-size="17.30" font-weight="normal" textLength="17.17" lengthAdjust="spacingAndGlyphs">20</text>
<text x="217.14" y="260.55" font-family="'Liberation Serif', serif" font-size="17.30" font-weight="normal" textLength="18.09" lengthAdjust="spacingAndGlyphs">40</text>
<text x="297.19" y="262.25" font-family="'Liberation Serif', serif" font-size="17.30" font-weight="normal" textLength="17.83" lengthAdjust="spacingAndGlyphs">60</text>
<text x="377.19" y="261.55" font-family="'Liberation Serif', serif" font-size="17.30" font-weight="normal" textLength="17.83" lengthAdjust="spacingAndGlyphs">80</text>
<text x="450.04" y="261.55" font-family="'Liberation Serif', serif" font-size="17.30" font-weight="normal" textLength="25.95" lengthAdjust="spacingAndGlyphs">100</text>
<text x="40.85" y="301.25" font-family="'Liberation Serif', serif" font-size="17.30" font-weight="normal" textLength="26.56" lengthAdjust="spacingAndGlyphs">400</text>
<text x="40.15" y="376.15" font-family="'Liberation Serif', serif" font-size="17.30" font-weight="normal" textLength="25.53" lengthAdjust="spacingAndGlyphs">300</text>
<text x="40.32" y="450.35" font-family="'Liberation Serif', serif" font-size="17.30" font-weight="normal" textLength="25.35" lengthAdjust="spacingAndGlyphs">200</text>
<text x="39.68" y="526.35" font-family="'Liberation Serif', serif" font-size="17.30" font-weight="normal" textLength="25.29" lengthAdjust="spacingAndGlyphs">100</text>
<text x="52.51" y="598.35" font-family="'Liberation Serif', serif" font-size="17.30" font-weight="normal" textLength="9.88" lengthAdjust="spacingAndGlyphs">0</text>
<text x="68.07" y="612.35" font-family="'Liberation Serif', serif" font-size="17.30" font-weight="normal" textLength="9.17" lengthAdjust="spacingAndGlyphs">0</text>
<text x="140.40" y="611.35" font-family="'Liberation Serif', serif" font-size="17.30" font-weight="normal" textLength="17.39" lengthAdjust="spacingAndGlyphs">20</text>
<text x="217.14" y="612.55" font-family="'Liberation Serif', serif" font-size="17.30" font-weight="normal" textLength="17.87" lengthAdjust="spacingAndGlyphs">40</text>
<text x="295.39" y="614.55" font-family="'Liberation Serif', serif" font-size="17.30" font-weight="normal" textLength="17.83" lengthAdjust="spacingAndGlyphs">60</text>
<text x="375.91" y="612.25" font-family="'Liberation Serif', serif" font-size="17.30" font-weight="normal" textLength="17.28" lengthAdjust="spacingAndGlyphs">80</text>
<text x="448.64" y="614.55" font-family="'Liberation Serif', serif" font-size="17.30" font-weight="normal" textLength="25.95" lengthAdjust="spacingAndGlyphs">100</text>
<text x="255.98" y="185.70" font-family="'Liberation Serif', serif" font-size="17.54" font-weight="normal" textLength="92.50" lengthAdjust="spacingAndGlyphs">Experimental</text>
<text x="254.16" y="210.70" font-family="'Liberation Serif', serif" font-size="17.54" font-weight="normal" textLength="77.02" lengthAdjust="spacingAndGlyphs">Theoretical</text>
<text x="131.60" y="70.36" font-family="'Liberation Serif', serif" font-size="17.01" font-weight="normal" textLength="43.82" lengthAdjust="spacingAndGlyphs">SC-23</text>
<text x="160.48" y="120.05" font-family="'Liberation Serif', serif" font-size="17.31" font-weight="normal" textLength="44.66" lengthAdjust="spacingAndGlyphs">SC-18</text>
<text x="104.47" y="343.36" font-family="'Liberation Serif', serif" font-size="17.01" font-weight="normal" textLength="45.02" lengthAdjust="spacingAndGlyphs">SC-32</text>
<text x="150.47" y="438.27" font-family="'Liberation Serif', serif" font-size="16.72" font-weight="normal" textLength="44.84" lengthAdjust="spacingAndGlyphs">SC-29</text>
<text x="352.75" y="66.80" font-family="'Liberation Serif', serif" font-size="20.00" font-weight="normal" textLength="23.49" lengthAdjust="spacingAndGlyphs">(a)</text>
<text x="352.77" y="367.50" font-family="'Liberation Serif', serif" font-size="20.00" font-weight="normal" textLength="24.19" lengthAdjust="spacingAndGlyphs">(b)</text>
<text x="191.22" y="281.90" font-family="'Liberation Sans', sans-serif" font-size="13.04" font-weight="normal" textLength="154.05" lengthAdjust="spacingAndGlyphs">Mid-span Deflection (mm)</text>
<text x="189.51" y="633.20" font-family="'Liberation Sans', sans-serif" font-size="12.90" font-weight="normal" textLength="155.57" lengthAdjust="spacingAndGlyphs">Mid-span Deflection (mm)</text>
<text x="0.00" y="0.00" font-family="'Liberation Sans', sans-serif" font-size="13.62" font-weight="normal" textLength="93.50" lengthAdjust="spacingAndGlyphs" transform="translate(31.50,179.00) rotate(-90)">Axial Load (kN)</text>
<text x="0.00" y="0.00" font-family="'Liberation Sans', sans-serif" font-size="13.91" font-weight="normal" textLength="94.51" lengthAdjust="spacingAndGlyphs" transform="translate(29.70,494.00) rotate(-90)">Axial Load (kN)</text>
<text x="6.25" y="660.70" font-family="'Liberation Sans', sans-serif" font-size="13.20" font-weight="bold" textLength="45.68" lengthAdjust="spacingAndGlyphs" stroke="#000" stroke-width="0.35">Figure</text>
<text x="60.07" y="660.70" font-family="'Liberation Sans', sans-serif" font-size="13.20" font-weight="bold" textLength="13.21" lengthAdjust="spacingAndGlyphs" stroke="#000" stroke-width="0.35">7.</text>
<text x="79.82" y="660.70" font-family="'Liberation Sans', sans-serif" font-size="13.20" font-weight="bold" textLength="117.10" lengthAdjust="spacingAndGlyphs" stroke="#000" stroke-width="0.35">Load-Deflection</text>
<text x="204.13" y="660.70" font-family="'Liberation Sans', sans-serif" font-size="13.20" font-weight="bold" textLength="48.45" lengthAdjust="spacingAndGlyphs" stroke="#000" stroke-width="0.35">Curves</text>
<text x="260.33" y="660.70" font-family="'Liberation Sans', sans-serif" font-size="13.20" font-weight="bold" textLength="13.53" lengthAdjust="spacingAndGlyphs" stroke="#000" stroke-width="0.35">of</text>
<text x="281.32" y="660.70" font-family="'Liberation Sans', sans-serif" font-size="13.20" font-weight="bold" textLength="62.03" lengthAdjust="spacingAndGlyphs" stroke="#000" stroke-width="0.35">Columns</text>
<text x="350.47" y="660.70" font-family="'Liberation Sans', sans-serif" font-size="13.20" font-weight="bold" textLength="44.83" lengthAdjust="spacingAndGlyphs" stroke="#000" stroke-width="0.35">SC-18,</text>
<text x="403.25" y="660.70" font-family="'Liberation Sans', sans-serif" font-size="13.20" font-weight="bold" textLength="46.38" lengthAdjust="spacingAndGlyphs" stroke="#000" stroke-width="0.35">SC-23,</text>
<text x="457.55" y="660.70" font-family="'Liberation Sans', sans-serif" font-size="13.20" font-weight="bold" textLength="42.36" lengthAdjust="spacingAndGlyphs" stroke="#000" stroke-width="0.35">SC-29</text>
<text x="6.85" y="678.00" font-family="'Liberation Sans', sans-serif" font-size="13.20" font-weight="bold" textLength="26.88" lengthAdjust="spacingAndGlyphs" stroke="#000" stroke-width="0.35">and</text>
<text x="38.87" y="678.00" font-family="'Liberation Sans', sans-serif" font-size="13.20" font-weight="bold" textLength="40.77" lengthAdjust="spacingAndGlyphs" stroke="#000" stroke-width="0.35">SC-32</text>
<text x="87.15" y="678.00" font-family="'Liberation Sans', sans-serif" font-size="13.20" font-weight="bold" textLength="43.72" lengthAdjust="spacingAndGlyphs" stroke="#000" stroke-width="0.35">tested</text>
<text x="136.07" y="678.00" font-family="'Liberation Sans', sans-serif" font-size="13.20" font-weight="bold" textLength="17.13" lengthAdjust="spacingAndGlyphs" stroke="#000" stroke-width="0.35">by</text>
<text x="158.72" y="678.00" font-family="'Liberation Sans', sans-serif" font-size="13.20" font-weight="bold" textLength="70.09" lengthAdjust="spacingAndGlyphs" stroke="#000" stroke-width="0.35">Kilpatrick</text>
<text x="235.20" y="678.00" font-family="'Liberation Sans', sans-serif" font-size="13.20" font-weight="bold" textLength="29.42" lengthAdjust="spacingAndGlyphs" stroke="#000" stroke-width="0.35">and</text>
<text x="269.55" y="678.00" font-family="'Liberation Sans', sans-serif" font-size="13.20" font-weight="bold" textLength="55.06" lengthAdjust="spacingAndGlyphs" stroke="#000" stroke-width="0.35">Rangan</text>
<text x="330.22" y="678.00" font-family="'Liberation Sans', sans-serif" font-size="13.20" font-weight="bold" textLength="36.24" lengthAdjust="spacingAndGlyphs" stroke="#000" stroke-width="0.35">1999</text>
</svg></body></html>
